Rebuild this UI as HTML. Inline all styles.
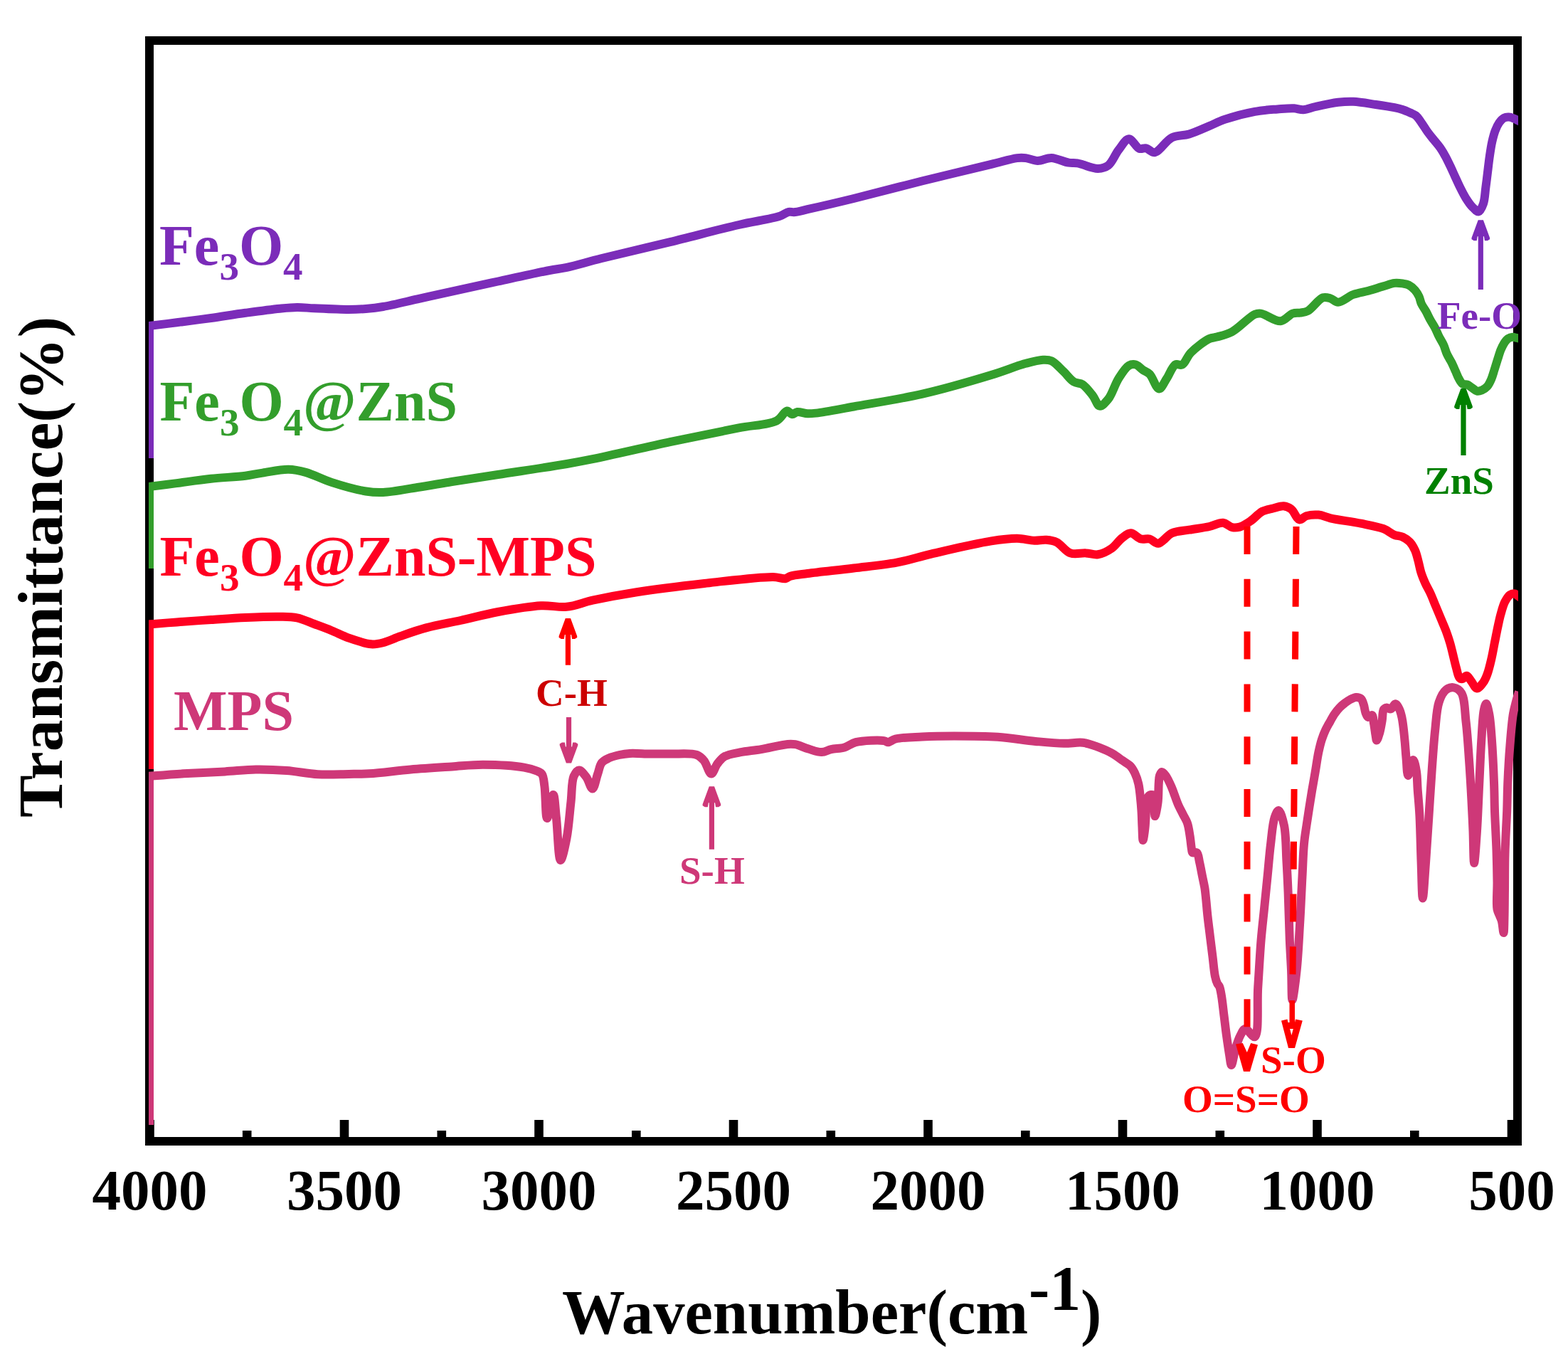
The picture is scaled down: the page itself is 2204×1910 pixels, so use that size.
<!DOCTYPE html>
<html><head><meta charset="utf-8"><title>FTIR spectra</title>
<style>
html,body{margin:0;padding:0;background:#fff;}
body{width:2204px;height:1910px;overflow:hidden;}
svg{display:block;}
text{font-family:"Liberation Serif",serif;font-weight:bold;}
</style></head><body>
<svg width="2204" height="1910" viewBox="0 0 2204 1910">
<rect x="0" y="0" width="2204" height="1910" fill="#fff"/>

<rect x="210" y="57" width="1923" height="1547" fill="none" stroke="#000" stroke-width="12"/>
<rect x="204.2" y="1574" width="12.6" height="26" fill="#000"/>
<rect x="340.9" y="1589" width="12.6" height="11" fill="#000"/>
<rect x="477.7" y="1574" width="12.6" height="26" fill="#000"/>
<rect x="614.5" y="1589" width="12.6" height="11" fill="#000"/>
<rect x="751.2" y="1574" width="12.6" height="26" fill="#000"/>
<rect x="888.0" y="1589" width="12.6" height="11" fill="#000"/>
<rect x="1024.7" y="1574" width="12.6" height="26" fill="#000"/>
<rect x="1161.5" y="1589" width="12.6" height="11" fill="#000"/>
<rect x="1298.2" y="1574" width="12.6" height="26" fill="#000"/>
<rect x="1435.0" y="1589" width="12.6" height="11" fill="#000"/>
<rect x="1571.7" y="1574" width="12.6" height="26" fill="#000"/>
<rect x="1708.5" y="1589" width="12.6" height="11" fill="#000"/>
<rect x="1845.2" y="1574" width="12.6" height="26" fill="#000"/>
<rect x="1982.0" y="1589" width="12.6" height="11" fill="#000"/>
<rect x="2118.7" y="1574" width="12.6" height="26" fill="#000"/>
<defs><clipPath id="pc"><rect x="209" y="0" width="1925" height="1910"/></clipPath></defs>
<g clip-path="url(#pc)">
<path d="M210.0,638.0 L210.0,458.0" fill="none" stroke="#7B2CB9" stroke-width="12" stroke-linecap="square"/>
<path d="M210.0,458.0 C216.4,457.2 234.9,455.0 248.4,453.3 C263.6,451.4 280.6,449.2 296.7,447.0 C312.8,444.7 328.9,442.0 345.0,439.8 C361.1,437.6 380.0,435.0 393.4,433.7 C402.8,432.8 409.5,432.1 417.6,432.0 C425.7,431.9 432.4,432.9 441.8,433.3 C455.1,433.9 476.7,435.0 490.0,435.0 C499.5,435.0 506.2,434.7 514.3,434.0 C522.4,433.3 529.1,432.6 538.5,431.0 C551.9,428.7 570.7,424.0 586.8,420.4 C602.9,416.8 617.9,413.4 635.2,409.6 C655.2,405.2 677.8,400.3 700.0,395.5 C723.5,390.4 754.8,383.4 772.5,380.0 C782.7,378.0 787.3,377.9 796.7,375.9 C810.1,373.0 826.1,368.0 845.0,363.3 C871.7,356.6 909.6,348.0 941.8,340.1 C974.1,332.2 1010.3,322.5 1038.5,316.0 C1060.2,311.0 1084.5,307.7 1096.5,303.6 C1102.2,301.7 1105.0,298.5 1108.6,297.8 C1111.3,297.3 1112.9,298.5 1115.9,298.3 C1120.8,298.0 1126.9,296.1 1135.2,294.2 C1150.5,290.8 1176.3,284.8 1200.0,279.0 C1229.0,271.9 1264.4,262.3 1296.7,254.3 C1328.9,246.3 1368.9,236.7 1393.4,230.8 C1408.4,227.2 1420.8,223.2 1429.7,222.1 C1434.8,221.5 1437.5,221.6 1441.8,222.1 C1447.0,222.7 1452.9,225.9 1458.7,226.0 C1464.9,226.1 1471.2,221.8 1478.0,222.0 C1485.6,222.3 1495.5,227.6 1502.2,228.7 C1506.9,229.5 1509.4,228.6 1514.3,229.4 C1521.9,230.6 1535.3,237.1 1543.3,236.9 C1549.0,236.8 1553.5,235.7 1557.8,232.5 C1563.5,228.3 1567.2,217.2 1572.3,210.8 C1576.9,205.0 1581.9,195.5 1586.8,195.3 C1591.6,195.1 1596.6,207.1 1601.3,208.8 C1604.6,210.0 1607.7,207.7 1611.0,208.4 C1614.9,209.2 1618.5,214.8 1623.0,214.2 C1629.9,213.3 1638.6,197.6 1647.3,193.4 C1654.9,189.7 1663.2,191.0 1671.5,188.5 C1680.7,185.7 1691.2,180.7 1700.0,177.0 C1707.6,173.8 1712.9,170.8 1721.3,167.9 C1732.9,163.9 1750.6,159.2 1763.8,156.8 C1775.1,154.7 1785.9,154.2 1795.7,153.4 C1804.1,152.8 1812.5,151.9 1819.1,152.3 C1824.0,152.6 1827.4,154.5 1831.9,154.3 C1837.2,154.1 1842.3,151.5 1848.9,150.0 C1857.9,148.0 1871.3,145.0 1880.9,143.8 C1888.7,142.9 1894.3,142.5 1902.1,142.8 C1911.7,143.2 1923.9,145.5 1934.0,147.0 C1943.1,148.3 1953.2,149.8 1960.0,151.2 C1964.5,152.1 1967.5,152.8 1971.2,154.0 C1975.0,155.2 1979.0,157.0 1982.3,158.5 C1985.2,159.8 1987.7,160.4 1990.1,162.4 C1993.0,164.8 1995.4,168.8 1998.0,172.4 C2001.0,176.5 2003.8,181.6 2006.9,185.8 C2009.8,189.8 2012.8,193.3 2015.8,197.0 C2018.8,200.7 2022.1,204.3 2024.7,208.1 C2027.2,211.7 2029.2,215.4 2031.4,219.3 C2033.7,223.5 2035.9,228.1 2038.1,232.7 C2040.4,237.4 2042.5,242.2 2044.8,247.2 C2047.3,252.6 2049.9,258.6 2052.6,263.9 C2055.1,268.9 2057.5,273.9 2060.4,278.4 C2063.2,282.8 2066.1,287.4 2069.4,290.7 C2072.2,293.5 2075.8,297.9 2078.3,297.4 C2081.0,296.9 2083.4,290.8 2085.0,286.2 C2087.1,280.2 2087.3,271.3 2088.3,263.9 C2089.3,256.5 2090.2,249.0 2091.1,241.6 C2092.0,234.2 2092.8,226.5 2093.9,219.3 C2094.9,212.4 2095.9,205.4 2097.3,199.2 C2098.6,193.6 2099.9,188.3 2101.7,183.6 C2103.3,179.5 2105.1,175.5 2107.3,172.4 C2109.2,169.7 2111.5,167.0 2114.0,165.7 C2116.1,164.6 2118.5,164.5 2120.7,164.6 C2122.9,164.7 2125.3,165.5 2127.4,166.3 C2129.4,167.0 2131.0,168.1 2133.0,169.1 C2135.2,170.2 2138.8,172.0 2140.0,172.6" fill="none" stroke="#7B2CB9" stroke-width="12" stroke-linejoin="round" stroke-linecap="butt"/>
<path d="M210.0,793.0 L210.0,684.0" fill="none" stroke="#339E2C" stroke-width="12" stroke-linecap="square"/>
<path d="M210.0,684.0 C216.4,683.2 234.9,680.8 248.4,679.1 C263.6,677.1 280.6,674.5 296.7,672.8 C312.8,671.1 331.7,670.4 345.0,668.7 C354.5,667.5 360.3,665.9 369.2,664.6 C380.1,663.0 394.6,659.6 405.5,659.8 C414.4,660.0 420.9,661.5 429.7,663.9 C440.7,666.9 452.9,673.7 466.0,677.9 C480.8,682.7 500.9,688.4 514.3,690.5 C523.7,692.0 529.1,692.4 538.5,692.0 C551.9,691.5 570.7,687.5 586.8,685.0 C602.9,682.5 617.9,679.8 635.2,677.0 C655.2,673.8 676.2,670.7 700.0,667.0 C729.0,662.5 772.2,656.2 796.7,652.0 C811.7,649.4 817.7,648.3 833.0,645.2 C859.6,639.8 906.6,628.7 941.8,621.2 C975.0,614.1 1011.0,606.8 1038.5,601.4 C1058.8,597.4 1080.1,597.3 1091.7,591.3 C1098.8,587.7 1102.1,577.9 1106.2,577.5 C1108.9,577.3 1110.9,582.1 1113.4,582.3 C1115.8,582.5 1117.8,579.4 1120.7,579.0 C1124.6,578.5 1130.6,581.1 1135.2,581.3 C1139.4,581.5 1141.9,581.2 1147.3,580.6 C1158.7,579.3 1179.8,575.1 1200.0,571.5 C1227.4,566.6 1264.6,561.0 1296.7,553.6 C1329.1,546.2 1366.8,535.1 1393.4,527.0 C1412.4,521.2 1428.3,514.4 1441.8,510.8 C1451.2,508.3 1459.3,506.1 1466.0,505.8 C1470.7,505.6 1473.9,505.4 1478.0,507.2 C1483.6,509.7 1489.6,517.2 1495.0,522.2 C1500.1,527.0 1504.5,533.7 1509.5,536.7 C1513.4,539.0 1517.7,537.9 1521.6,540.3 C1526.6,543.5 1531.8,550.7 1536.0,556.0 C1539.8,560.8 1541.9,570.0 1545.7,570.6 C1549.3,571.2 1554.0,565.5 1557.8,560.9 C1563.2,554.2 1567.0,540.2 1572.3,531.9 C1576.8,524.9 1581.9,516.5 1586.8,513.7 C1590.0,511.9 1593.4,511.7 1596.5,512.5 C1599.9,513.4 1602.9,517.6 1606.2,519.8 C1609.4,522.0 1612.8,522.7 1615.9,525.8 C1620.5,530.3 1624.9,546.3 1629.2,546.4 C1632.9,546.5 1636.4,537.2 1640.0,531.9 C1644.0,526.0 1647.5,515.1 1652.1,512.5 C1655.1,510.8 1658.8,514.1 1661.8,512.5 C1666.2,510.2 1668.6,501.0 1673.9,495.6 C1680.6,488.8 1692.9,479.3 1700.0,476.0 C1704.1,474.1 1706.5,474.8 1710.6,473.6 C1716.5,471.9 1724.4,470.2 1731.9,466.2 C1741.9,460.8 1756.2,444.8 1763.8,441.7 C1767.3,440.3 1768.7,440.2 1772.3,440.6 C1779.0,441.4 1792.1,452.1 1800.0,451.3 C1806.5,450.7 1811.8,442.4 1817.0,440.6 C1820.8,439.3 1824.2,440.2 1827.7,439.6 C1831.3,439.0 1834.4,439.0 1838.3,437.0 C1844.5,433.8 1853.3,420.3 1859.6,418.3 C1863.4,417.1 1866.7,418.4 1870.2,419.4 C1873.9,420.5 1876.7,424.7 1880.9,424.7 C1886.8,424.7 1894.9,416.7 1902.1,414.0 C1909.0,411.4 1916.3,410.6 1923.4,408.7 C1930.5,406.7 1938.2,404.2 1944.7,402.3 C1950.2,400.7 1955.3,398.5 1960.0,397.9 C1964.0,397.4 1967.7,397.9 1971.2,398.4 C1974.4,398.9 1977.3,399.2 1980.1,400.6 C1983.3,402.2 1986.6,405.1 1989.0,407.9 C1991.3,410.6 1993.1,413.6 1994.6,416.8 C1996.1,420.0 1996.4,423.5 1997.9,426.9 C1999.6,430.6 2002.5,434.3 2004.6,438.0 C2006.6,441.7 2008.2,445.5 2010.2,449.2 C2012.3,453.0 2014.9,456.5 2016.9,460.4 C2019.0,464.3 2020.5,468.6 2022.5,472.6 C2024.6,476.7 2027.3,480.7 2029.2,484.9 C2031.0,488.9 2031.9,493.2 2033.7,497.2 C2035.6,501.4 2038.3,505.4 2040.4,509.5 C2042.4,513.5 2044.2,517.8 2045.9,521.7 C2047.5,525.2 2048.6,528.7 2050.4,531.8 C2052.0,534.7 2053.7,538.2 2056.0,539.6 C2057.9,540.8 2060.6,539.9 2062.7,540.7 C2065.0,541.6 2067.2,543.7 2069.4,545.2 C2071.6,546.7 2073.8,549.1 2076.1,549.6 C2078.2,550.1 2080.6,549.4 2082.8,548.5 C2085.4,547.4 2088.4,545.4 2090.6,543.0 C2093.0,540.3 2094.6,536.6 2096.2,532.9 C2098.0,528.8 2099.1,524.1 2100.6,519.5 C2102.1,514.8 2103.6,509.7 2105.1,505.0 C2106.6,500.4 2108.0,495.6 2109.6,491.6 C2111.0,488.3 2112.3,485.4 2114.0,482.7 C2115.6,480.2 2117.4,477.5 2119.6,476.0 C2121.6,474.7 2124.2,473.9 2126.3,473.8 C2128.2,473.7 2129.9,474.5 2131.9,474.9 C2134.4,475.4 2138.7,476.2 2140.0,476.5" fill="none" stroke="#339E2C" stroke-width="12" stroke-linejoin="round" stroke-linecap="butt"/>
<path d="M210.0,1075.0 L210.0,877.5" fill="none" stroke="#FF0022" stroke-width="12" stroke-linecap="square"/>
<path d="M210.0,877.5 C216.4,877.0 234.9,875.4 248.4,874.4 C263.6,873.3 280.6,872.1 296.7,871.0 C312.8,869.9 328.9,868.6 345.0,867.9 C361.1,867.2 380.0,866.4 393.4,866.7 C402.9,866.9 409.6,866.7 417.6,868.4 C425.8,870.1 433.7,874.0 441.8,877.0 C449.9,880.0 458.0,882.9 466.0,886.2 C474.1,889.5 481.4,893.5 490.1,896.6 C499.8,900.0 512.7,904.6 521.6,905.3 C528.0,905.8 532.5,904.7 538.5,903.2 C545.9,901.4 553.8,897.3 562.7,894.2 C573.5,890.4 585.9,885.9 599.0,882.4 C613.9,878.4 630.9,875.6 647.3,872.0 C664.5,868.2 681.8,863.4 700.0,860.0 C719.4,856.4 742.8,852.1 760.4,851.2 C774.0,850.5 784.7,854.0 796.7,852.8 C808.9,851.6 819.3,846.7 833.0,843.7 C850.5,839.9 870.9,836.0 893.4,832.5 C921.8,828.0 957.8,823.6 990.1,820.0 C1022.3,816.4 1067.8,810.7 1086.8,811.0 C1094.8,811.1 1099.4,813.9 1103.8,813.2 C1106.8,812.7 1107.8,810.8 1111.0,809.8 C1116.6,808.1 1125.2,807.4 1135.2,806.0 C1151.6,803.8 1178.8,801.1 1200.0,798.5 C1220.5,796.0 1241.5,794.3 1260.4,790.7 C1277.5,787.5 1290.4,782.9 1308.8,778.6 C1333.0,773.0 1371.0,763.9 1393.4,760.4 C1407.9,758.1 1418.8,756.7 1429.7,756.8 C1438.6,756.9 1446.5,759.5 1453.9,759.7 C1460.0,759.9 1465.4,758.3 1470.8,758.8 C1475.8,759.2 1480.4,759.7 1485.3,762.1 C1491.6,765.1 1497.5,774.9 1504.6,777.4 C1511.3,779.7 1519.6,777.0 1526.4,777.4 C1532.4,777.7 1537.6,780.2 1543.3,779.3 C1549.7,778.3 1557.0,774.5 1562.7,770.6 C1568.3,766.8 1572.3,759.8 1577.2,756.1 C1581.2,753.1 1585.1,749.3 1589.3,749.3 C1593.9,749.3 1599.0,756.2 1603.8,757.5 C1607.9,758.6 1612.0,756.5 1615.9,757.5 C1620.1,758.5 1623.6,764.2 1628.0,763.8 C1633.8,763.3 1640.1,752.5 1647.3,749.3 C1654.6,746.1 1663.1,746.2 1671.5,744.7 C1680.6,743.1 1691.5,741.9 1700.0,740.0 C1707.0,738.4 1713.5,734.2 1719.1,734.7 C1723.9,735.2 1727.7,740.2 1731.9,741.1 C1735.5,741.9 1738.9,741.6 1742.6,740.6 C1747.3,739.3 1752.4,735.9 1757.4,732.6 C1763.1,728.8 1768.7,721.7 1774.5,718.7 C1779.4,716.2 1784.4,715.7 1789.4,714.5 C1794.3,713.3 1799.8,710.9 1804.3,711.3 C1808.2,711.6 1811.6,713.0 1814.9,715.5 C1819.2,718.7 1822.5,729.6 1826.6,730.4 C1829.7,731.0 1832.4,726.3 1836.2,725.1 C1840.9,723.7 1847.6,723.1 1853.2,723.6 C1858.9,724.1 1863.2,726.7 1870.2,728.3 C1881.1,730.8 1899.7,733.0 1912.8,735.7 C1924.2,738.0 1936.2,739.9 1944.7,743.2 C1950.9,745.6 1955.1,749.9 1960.0,751.8 C1964.0,753.4 1968.0,753.0 1971.6,754.7 C1975.3,756.4 1978.9,758.9 1981.8,761.9 C1984.8,765.1 1987.1,769.3 1989.0,773.5 C1991.0,777.9 1992.0,782.9 1993.4,788.0 C1994.9,793.5 1995.9,799.9 1997.7,805.4 C1999.3,810.5 2001.3,815.1 2003.5,819.9 C2005.7,824.8 2008.5,829.3 2010.8,834.4 C2013.3,839.9 2015.6,846.0 2018.0,851.8 C2020.4,857.6 2022.9,863.5 2025.3,869.3 C2027.7,875.1 2030.3,880.9 2032.5,886.7 C2034.6,892.5 2036.6,898.3 2038.3,904.1 C2040.0,909.9 2041.2,915.7 2042.7,921.5 C2044.1,927.3 2045.5,933.5 2047.0,938.9 C2048.4,943.7 2049.3,950.3 2051.4,952.5 C2052.6,953.8 2054.2,954.3 2055.7,954.1 C2057.6,953.8 2059.6,949.6 2061.5,949.8 C2063.5,950.0 2065.2,953.8 2067.3,956.3 C2070.0,959.5 2073.0,967.2 2076.0,967.5 C2078.8,967.7 2082.3,962.7 2084.7,959.5 C2087.2,956.1 2088.8,952.3 2090.5,947.6 C2092.8,941.5 2094.7,933.1 2096.4,925.8 C2098.1,918.6 2099.3,911.3 2100.7,904.1 C2102.2,896.8 2103.6,889.3 2105.1,882.3 C2106.5,875.8 2107.7,869.6 2109.4,863.5 C2111.1,857.5 2112.7,850.9 2115.2,846.0 C2117.3,842.0 2119.8,837.7 2122.5,835.9 C2124.5,834.6 2127.1,834.1 2129.0,834.4 C2130.7,834.7 2131.7,836.2 2133.3,837.3 C2135.3,838.6 2138.9,841.1 2140.0,841.8" fill="none" stroke="#FF0022" stroke-width="12" stroke-linejoin="round" stroke-linecap="butt"/>
<path d="M210.0,1575.0 L210.0,1090.8" fill="none" stroke="#CE3878" stroke-width="12" stroke-linecap="square"/>
<path d="M210.0,1090.8 C218.0,1090.2 241.2,1088.3 258.0,1087.3 C276.4,1086.2 298.0,1085.4 316.0,1084.4 C331.6,1083.5 345.1,1081.7 359.6,1081.5 C374.1,1081.3 388.5,1081.9 403.0,1083.0 C417.5,1084.1 432.0,1087.4 446.6,1088.2 C461.1,1089.0 477.1,1088.1 490.1,1087.9 C500.7,1087.8 507.8,1088.0 519.1,1087.3 C535.1,1086.3 557.7,1083.2 577.1,1081.5 C596.4,1079.9 617.2,1078.6 635.2,1077.4 C650.7,1076.4 663.2,1074.8 678.7,1074.8 C696.6,1074.9 723.0,1076.3 736.7,1078.6 C744.4,1079.9 750.0,1081.6 754.5,1083.5 C757.6,1084.8 760.0,1085.4 761.8,1087.9 C764.3,1091.5 764.4,1097.9 765.4,1105.0 C767.0,1116.4 766.7,1149.8 769.0,1150.0 C771.0,1150.2 775.5,1116.9 777.7,1117.0 C779.8,1117.1 780.5,1137.4 782.0,1150.0 C783.9,1166.8 784.8,1208.7 787.9,1209.0 C790.2,1209.2 794.2,1189.7 796.5,1178.0 C799.4,1163.2 800.7,1142.5 802.5,1127.0 C804.0,1114.0 803.2,1098.6 806.5,1091.0 C808.4,1086.8 811.2,1082.6 814.0,1082.5 C817.1,1082.4 821.1,1088.3 824.1,1092.2 C827.5,1096.7 830.2,1108.7 832.8,1108.5 C835.6,1108.3 837.8,1094.3 840.1,1087.9 C842.1,1082.2 842.8,1075.7 845.9,1071.9 C848.5,1068.7 852.2,1067.2 856.0,1065.4 C860.3,1063.4 865.7,1062.1 870.6,1061.0 C875.4,1059.9 879.4,1059.2 885.1,1058.9 C893.1,1058.4 904.4,1059.5 914.1,1059.6 C923.8,1059.7 932.9,1059.4 943.1,1059.6 C954.5,1059.8 971.3,1058.0 979.4,1061.0 C984.2,1062.8 986.4,1065.4 989.5,1069.0 C993.4,1073.6 996.4,1087.4 999.7,1087.5 C1002.7,1087.6 1005.1,1077.6 1008.4,1073.4 C1011.4,1069.5 1014.1,1065.8 1018.5,1063.2 C1024.0,1060.0 1032.2,1059.0 1040.0,1057.4 C1049.1,1055.5 1059.4,1054.9 1069.9,1053.1 C1081.6,1051.1 1098.4,1046.6 1107.1,1045.9 C1111.7,1045.5 1113.8,1045.5 1117.8,1046.2 C1123.2,1047.2 1130.2,1050.8 1136.4,1052.6 C1142.6,1054.4 1149.3,1057.3 1155.0,1057.1 C1159.8,1057.0 1163.5,1054.2 1168.3,1053.1 C1173.9,1051.8 1181.0,1052.1 1186.9,1050.4 C1192.6,1048.8 1196.2,1044.8 1202.9,1043.2 C1213.0,1040.7 1235.8,1039.9 1242.8,1041.1 C1245.5,1041.5 1246.0,1043.2 1248.1,1043.2 C1251.0,1043.1 1254.0,1039.7 1258.7,1038.5 C1267.2,1036.3 1283.0,1036.2 1296.0,1035.5 C1310.3,1034.8 1325.0,1034.5 1341.2,1034.5 C1360.0,1034.5 1382.7,1034.5 1402.3,1035.8 C1420.7,1037.0 1439.0,1040.4 1455.5,1041.9 C1469.7,1043.2 1483.4,1044.6 1495.4,1044.8 C1505.2,1045.0 1514.1,1042.9 1522.0,1043.8 C1528.6,1044.5 1534.6,1046.8 1540.0,1048.6 C1544.5,1050.1 1548.2,1051.7 1552.3,1053.5 C1556.4,1055.3 1560.6,1057.2 1564.6,1059.6 C1568.8,1062.1 1572.7,1065.3 1576.8,1068.2 C1580.9,1071.1 1586.0,1073.5 1589.1,1076.8 C1591.9,1079.7 1593.4,1083.0 1595.2,1086.7 C1597.2,1091.0 1599.0,1096.1 1600.2,1101.4 C1601.6,1107.2 1602.1,1113.7 1602.8,1120.0 C1603.5,1126.5 1604.1,1133.1 1604.5,1140.0 C1605.0,1147.4 1605.1,1155.8 1605.5,1163.0 C1605.8,1169.4 1605.9,1181.0 1606.6,1181.0 C1607.3,1181.0 1608.8,1169.4 1609.5,1163.0 C1610.3,1155.8 1610.4,1147.3 1611.0,1140.0 C1611.6,1133.4 1610.9,1124.8 1613.0,1121.0 C1614.2,1118.8 1616.4,1117.3 1618.0,1117.0 C1619.2,1116.8 1620.6,1116.9 1621.5,1118.0 C1624.1,1121.2 1622.2,1146.9 1623.4,1147.0 C1624.4,1147.1 1626.6,1135.0 1627.5,1128.0 C1628.6,1119.6 1628.2,1107.0 1628.8,1100.0 C1629.1,1095.8 1629.1,1092.7 1630.0,1090.0 C1630.7,1088.0 1631.7,1085.2 1633.0,1085.0 C1634.5,1084.8 1636.7,1087.6 1638.5,1090.0 C1641.3,1093.7 1644.7,1101.5 1646.8,1106.3 C1648.4,1109.9 1649.1,1112.4 1650.5,1116.1 C1652.3,1120.8 1654.4,1127.2 1656.6,1132.1 C1658.6,1136.5 1660.7,1140.3 1662.8,1144.4 C1664.8,1148.5 1667.3,1152.0 1668.9,1156.6 C1670.8,1162.0 1671.6,1168.8 1672.6,1175.0 C1673.6,1181.1 1674.2,1189.3 1675.0,1193.5 C1675.4,1195.7 1675.2,1197.5 1676.3,1198.4 C1677.5,1199.3 1680.9,1197.2 1682.4,1198.4 C1684.7,1200.2 1684.9,1207.0 1686.1,1211.9 C1687.4,1217.5 1688.6,1224.2 1689.8,1230.3 C1691.0,1236.4 1692.6,1243.0 1693.5,1248.7 C1694.2,1253.5 1694.5,1256.8 1695.0,1262.0 C1695.8,1269.2 1696.5,1279.2 1697.5,1288.0 C1698.5,1297.2 1699.8,1306.7 1700.9,1316.0 C1702.1,1325.3 1703.2,1334.7 1704.4,1344.0 C1705.6,1353.3 1706.4,1365.1 1707.9,1372.0 C1708.8,1376.2 1709.7,1379.3 1711.0,1382.0 C1711.9,1384.0 1713.3,1384.8 1714.2,1387.0 C1715.5,1390.2 1716.1,1394.8 1717.0,1400.0 C1718.3,1407.4 1719.3,1418.3 1720.5,1427.5 C1721.7,1436.8 1722.7,1446.2 1724.0,1455.5 C1725.3,1464.8 1726.9,1475.8 1728.2,1483.4 C1729.1,1488.7 1729.7,1497.0 1730.8,1497.0 C1732.3,1497.0 1734.6,1480.2 1736.9,1472.8 C1738.9,1466.3 1741.0,1459.8 1743.6,1455.0 C1745.6,1451.3 1747.5,1446.3 1750.3,1446.0 C1753.8,1445.6 1760.5,1458.6 1763.7,1457.2 C1770.1,1454.4 1766.7,1410.9 1768.2,1388.0 C1769.7,1365.5 1770.9,1341.1 1772.6,1321.0 C1774.0,1304.6 1775.6,1291.2 1777.1,1276.3 C1778.6,1261.4 1780.1,1246.6 1781.6,1231.7 C1783.1,1216.8 1784.2,1201.3 1786.0,1187.0 C1787.6,1173.8 1788.7,1157.4 1791.6,1149.0 C1793.2,1144.4 1795.3,1138.9 1797.2,1139.0 C1799.8,1139.2 1803.1,1151.5 1805.0,1160.2 C1807.7,1173.0 1807.5,1193.3 1808.4,1209.3 C1809.3,1224.5 1809.9,1237.6 1810.6,1254.0 C1811.4,1274.1 1812.0,1300.9 1812.8,1321.0 C1813.5,1337.4 1814.5,1351.1 1815.1,1365.6 C1815.7,1379.3 1815.3,1405.4 1816.5,1405.5 C1817.7,1405.6 1820.9,1380.1 1822.5,1365.0 C1824.6,1345.9 1825.7,1321.9 1827.0,1300.0 C1828.4,1277.6 1829.4,1252.3 1830.5,1232.0 C1831.4,1215.5 1831.7,1200.1 1832.9,1187.0 C1833.8,1176.8 1835.0,1170.3 1836.5,1160.0 C1838.5,1146.3 1841.7,1125.9 1844.0,1112.0 C1845.8,1101.4 1847.3,1093.2 1848.9,1083.9 C1850.4,1074.9 1851.7,1065.1 1853.4,1057.1 C1854.8,1050.5 1856.1,1044.8 1857.9,1039.3 C1859.5,1034.5 1861.2,1030.1 1863.2,1025.9 C1865.1,1021.8 1867.4,1018.1 1869.5,1014.3 C1871.5,1010.6 1873.4,1006.9 1875.7,1003.6 C1877.9,1000.4 1880.4,997.2 1882.9,994.6 C1885.2,992.2 1887.5,990.3 1890.0,988.4 C1892.5,986.5 1895.2,984.4 1898.0,983.0 C1900.6,981.7 1903.5,980.1 1906.1,980.0 C1908.5,979.9 1911.4,980.6 1913.2,982.1 C1915.1,983.8 1915.8,987.2 1916.8,990.2 C1918.0,993.7 1918.3,998.6 1919.5,1001.8 C1920.5,1004.3 1921.4,1007.6 1923.0,1008.0 C1924.5,1008.4 1927.1,1004.4 1928.4,1005.0 C1930.3,1005.8 1930.3,1012.6 1931.1,1017.0 C1932.1,1022.3 1933.0,1030.5 1933.8,1034.8 C1934.3,1037.2 1934.4,1040.4 1935.1,1040.5 C1936.0,1040.6 1937.9,1034.3 1939.1,1030.4 C1940.6,1025.3 1941.7,1018.3 1942.7,1012.5 C1943.6,1007.2 1943.1,999.8 1944.9,997.0 C1945.9,995.5 1947.4,994.8 1948.9,994.6 C1950.7,994.4 1953.3,997.0 1955.2,996.4 C1957.5,995.7 1959.4,989.2 1961.4,989.3 C1963.3,989.4 1965.4,993.6 1966.8,996.4 C1968.5,999.7 1969.4,1003.7 1970.4,1008.0 C1971.6,1013.3 1972.3,1019.9 1973.0,1025.9 C1973.7,1031.9 1974.2,1037.5 1974.8,1043.8 C1975.4,1050.8 1975.9,1058.5 1976.6,1066.1 C1977.4,1073.9 1977.6,1089.8 1979.3,1090.0 C1980.9,1090.2 1984.4,1068.0 1986.4,1068.0 C1988.1,1068.0 1989.9,1077.9 1990.9,1083.9 C1992.2,1091.5 1992.0,1100.6 1992.7,1110.0 C1993.5,1121.0 1994.7,1132.1 1995.4,1145.9 C1996.4,1164.4 1996.8,1190.7 1997.6,1211.2 C1998.3,1229.3 1998.7,1262.5 1999.8,1262.5 C2000.9,1262.5 2002.7,1229.3 2004.1,1211.2 C2005.6,1190.8 2007.0,1167.7 2008.5,1145.9 C2009.9,1124.1 2011.3,1101.4 2012.8,1080.6 C2014.2,1061.6 2015.4,1042.8 2017.2,1026.2 C2018.7,1012.0 2019.2,997.2 2022.6,987.0 C2025.0,979.8 2028.3,972.9 2032.4,969.6 C2035.5,967.1 2039.8,965.7 2043.3,966.3 C2047.1,966.9 2051.4,969.5 2054.2,973.9 C2059.1,981.7 2058.9,1000.5 2060.7,1015.3 C2062.7,1032.2 2063.8,1051.6 2065.1,1069.7 C2066.4,1087.8 2067.5,1107.0 2068.4,1124.1 C2069.2,1139.4 2069.9,1153.0 2070.5,1167.7 C2071.1,1182.7 2071.2,1213.0 2072.1,1213.0 C2073.0,1213.0 2074.9,1184.2 2076.0,1167.7 C2077.3,1147.9 2078.1,1124.2 2079.2,1102.4 C2080.3,1080.6 2081.2,1056.1 2082.5,1037.1 C2083.5,1022.4 2084.0,1006.3 2085.8,997.9 C2086.7,993.8 2087.9,989.0 2089.0,989.0 C2090.4,989.0 2092.2,998.3 2093.4,1004.4 C2095.1,1013.2 2095.7,1024.3 2096.7,1037.0 C2098.0,1054.6 2099.3,1081.4 2100.0,1100.0 C2100.6,1114.8 2100.5,1125.6 2101.0,1140.0 C2101.6,1156.9 2102.9,1177.6 2103.5,1195.0 C2104.0,1210.7 2104.3,1225.6 2104.5,1240.0 C2104.6,1253.2 2103.0,1269.8 2104.5,1278.0 C2105.3,1282.1 2106.9,1284.1 2108.0,1287.0 C2109.0,1289.7 2110.2,1291.8 2111.0,1295.0 C2112.1,1299.4 2112.9,1311.0 2113.5,1311.0 C2114.2,1311.0 2114.3,1298.1 2114.5,1290.0 C2114.8,1278.8 2114.8,1264.1 2115.0,1250.0 C2115.2,1234.3 2115.0,1217.4 2115.5,1200.0 C2116.0,1180.9 2117.5,1158.0 2118.2,1140.0 C2118.7,1125.3 2118.7,1114.3 2119.3,1100.0 C2120.0,1083.6 2121.1,1063.8 2122.5,1047.0 C2123.7,1031.6 2125.1,1014.2 2127.0,1003.0 C2128.2,996.0 2129.6,991.4 2131.0,986.0 C2132.3,981.1 2134.3,974.3 2135.0,972.0" fill="none" stroke="#CE3878" stroke-width="12" stroke-linejoin="round" stroke-linecap="butt"/>
</g>
<line x1="1753" y1="740" x2="1753" y2="1447" stroke="#FF0000" stroke-width="9" stroke-dasharray="39 34.8"/>
<line x1="1822" y1="740" x2="1817" y2="1372" stroke="#FF0000" stroke-width="9" stroke-dasharray="39 34.8"/>
<rect x="1812.5" y="1406" width="7.5" height="40" fill="#FF0000"/>
<polygon points="1737,1467.5 1746.8,1466 1752.8,1479 1758.2,1466 1768,1468.5 1757,1506 1748,1506" fill="#FF0000"/>
<path d="M1801,1434.5 L1809.5,1432.5 L1810.5,1437 L1820,1437 L1821,1432.5 L1830.8,1434.5 L1820,1473 L1811,1473 Z M1812.8,1445 L1818.1,1445 L1815.4,1455 Z" fill="#FF0000" fill-rule="evenodd"/>
<text x="210.5" y="1700" font-size="81" text-anchor="middle" fill="#000">4000</text>
<text x="484.0" y="1700" font-size="81" text-anchor="middle" fill="#000">3500</text>
<text x="757.5" y="1700" font-size="81" text-anchor="middle" fill="#000">3000</text>
<text x="1031.0" y="1700" font-size="81" text-anchor="middle" fill="#000">2500</text>
<text x="1304.5" y="1700" font-size="81" text-anchor="middle" fill="#000">2000</text>
<text x="1578.0" y="1700" font-size="81" text-anchor="middle" fill="#000">1500</text>
<text x="1851.5" y="1700" font-size="81" text-anchor="middle" fill="#000">1000</text>
<text x="2125.0" y="1700" font-size="81" text-anchor="middle" fill="#000">500</text>
<text x="790" y="1874" font-size="88.7" fill="#000">Wavenumber(cm</text>
<text x="1446" y="1840" font-size="88" fill="#000">-1</text>
<text x="1519" y="1874" font-size="88" fill="#000">)</text>
<text transform="translate(86.5,1149) rotate(-90)" x="0" y="0" font-size="89.5" fill="#000">Transmittance(%)</text>
<text x="224" y="372" font-size="80" fill="#7B2CB9">Fe<tspan font-size="55" dy="21">3</tspan><tspan dy="-21">O</tspan><tspan font-size="55" dy="21">4</tspan><tspan dy="-21"></tspan></text>
<text x="224.5" y="591" font-size="80" fill="#339E2C">Fe<tspan font-size="55" dy="21">3</tspan><tspan dy="-21">O</tspan><tspan font-size="55" dy="21">4</tspan><tspan dy="-21">@ZnS</tspan></text>
<text x="224.5" y="809" font-size="80" fill="#FF0022">Fe<tspan font-size="55" dy="21">3</tspan><tspan dy="-21">O</tspan><tspan font-size="55" dy="21">4</tspan><tspan dy="-21">@ZnS-MPS</tspan></text>
<text x="244" y="1026" font-size="80" fill="#CE3878">MPS</text>
<text x="2020" y="462" font-size="55" fill="#7B2CB9">Fe-O</text>
<polygon points="2077.7,309.2 2084.9,309.2 2094.1,334.2 2094.1,336.2 2090.9,338.2 2086.9,338.2 2085.9,332.2 2084.9,332.2 2084.9,407.0 2077.7,407.0 2077.7,332.2 2076.7,332.2 2075.7,338.2 2071.7,338.2 2068.5,336.2 2068.5,334.2" fill="#7B2CB9"/>
<text x="2002" y="694" font-size="55" fill="#008000">ZnS</text>
<polygon points="2053.4,546.0 2060.6,546.0 2069.8,571.0 2069.8,573.0 2066.6,575.0 2062.6,575.0 2061.6,569.0 2060.6,569.0 2060.6,640.0 2053.4,640.0 2053.4,569.0 2052.4,569.0 2051.4,575.0 2047.4,575.0 2044.2,573.0 2044.2,571.0" fill="#008000"/>
<text x="753" y="992" font-size="55" fill="#CC0000">C-H</text>
<polygon points="794.8,869.0 802.0,869.0 811.2,894.0 811.2,896.0 808.0,898.0 804.0,898.0 803.0,892.0 802.0,892.0 802.0,934.7 794.8,934.7 794.8,892.0 793.8,892.0 792.8,898.0 788.8,898.0 785.6,896.0 785.6,894.0" fill="#FF0000"/>
<polygon points="795.9,1072.6 803.1,1072.6 812.3,1047.6 812.3,1045.6 809.1,1043.6 805.1,1043.6 804.1,1049.6 803.1,1049.6 803.1,1008.1 795.9,1008.1 795.9,1049.6 794.9,1049.6 793.9,1043.6 789.9,1043.6 786.7,1045.6 786.7,1047.6" fill="#CE3878"/>
<text x="955" y="1242" font-size="55" fill="#CE3878">S-H</text>
<polygon points="996.8,1105.3 1004.0,1105.3 1013.2,1130.3 1013.2,1132.3 1010.0,1134.3 1006.0,1134.3 1005.0,1128.3 1004.0,1128.3 1004.0,1193.8 996.8,1193.8 996.8,1128.3 995.8,1128.3 994.8,1134.3 990.8,1134.3 987.6,1132.3 987.6,1130.3" fill="#CE3878"/>
<text x="1772" y="1508" font-size="55" fill="#FF0000">S-O</text>
<text x="1662" y="1562.5" font-size="55" fill="#FF0000">O=S=O</text>
</svg></body></html>
